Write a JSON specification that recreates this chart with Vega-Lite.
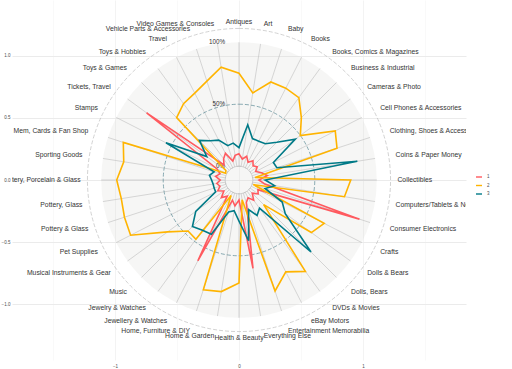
{
  "$schema": "https://vega.github.io/schema/vega-lite/v6.json",
  "width": 454,
  "height": 360,
  "autosize": {"type": "none"},
  "padding": {"left": 12, "top": 0, "right": 46, "bottom": 9},
  "background": "white",
  "config": {
    "view": {"stroke": null},
    "font": "Liberation Sans",
    "axis": {"domain": false, "ticks": false, "labelFontSize": 4.5, "labelColor": "#4D4D4D", "gridColor": "#EBEBEB"}
  },
  "datasets": {
    "radar": [
      {"category": "Antiques", "1": 0.10, "2": 0.75, "3": 0.15},
      {"category": "Art", "1": 0.06, "2": 0.60, "3": 0.34},
      {"category": "Baby", "1": 0.09, "2": 0.72, "3": 0.24},
      {"category": "Books", "1": 0.05, "2": 0.72, "3": 0.24},
      {"category": "Books, Comics & Magazines", "1": 0.08, "2": 0.71, "3": 0.25},
      {"category": "Business & Industrial", "1": 0.05, "2": 0.60, "3": 0.32},
      {"category": "Cameras & Photo", "1": 0.07, "2": 0.50, "3": 0.45},
      {"category": "Cell Phones & Accessories", "1": 0.04, "2": 0.76, "3": 0.20},
      {"category": "Clothing, Shoes & Accessories", "1": 0.08, "2": 0.72, "3": 0.21},
      {"category": "Coins & Paper Money", "1": 0.12, "2": 0.02, "3": 0.855},
      {"category": "Collectibles", "1": 0.05, "2": 0.79, "3": 0.10},
      {"category": "Computers/Tablets & Networking", "1": 0.10, "2": 0.75, "3": 0.18},
      {"category": "Consumer Electronics", "1": 0.91, "2": 0.01, "3": 0.11},
      {"category": "Crafts", "1": 0.06, "2": 0.66, "3": 0.28},
      {"category": "Dolls & Bears", "1": 0.08, "2": 0.61, "3": 0.35},
      {"category": "Dolls, Bears", "1": 0.04, "2": 0.17, "3": 0.71},
      {"category": "DVDs & Movies", "1": 0.09, "2": 0.80, "3": 0.17},
      {"category": "eBay Motors", "1": 0.05, "2": 0.72, "3": 0.21},
      {"category": "Entertainment Memorabilia", "1": 0.08, "2": 0.83, "3": 0.14},
      {"category": "Everything Else", "1": 0.61, "2": 0.05, "3": 0.385},
      {"category": "Health & Beauty", "1": 0.05, "2": 0.72, "3": 0.22},
      {"category": "Home & Garden", "1": 0.10, "2": 0.80, "3": 0.14},
      {"category": "Home, Furniture & DIY", "1": 0.06, "2": 0.82, "3": 0.16},
      {"category": "Jewellery & Watches", "1": 0.62, "2": 0.03, "3": 0.38},
      {"category": "Jewelry & Watches", "1": 0.05, "2": 0.48, "3": 0.39},
      {"category": "Music", "1": 0.09, "2": 0.47, "3": 0.42},
      {"category": "Musical Instruments & Gear", "1": 0.04, "2": 0.60, "3": 0.32},
      {"category": "Pet Supplies", "1": 0.08, "2": 0.87, "3": 0.10},
      {"category": "Pottery & Glass", "1": 0.05, "2": 0.86, "3": 0.10},
      {"category": "Pottery, Glass", "1": 0.07, "2": 0.85, "3": 0.10},
      {"category": "Pottery, Porcelain & Glass", "1": 0.04, "2": 0.875, "3": 0.11},
      {"category": "Sporting Goods", "1": 0.08, "2": 0.83, "3": 0.13},
      {"category": "Sports Mem, Cards & Fan Shop", "1": 0.05, "2": 0.87, "3": 0.10},
      {"category": "Stamps", "1": 0.09, "2": 0.01, "3": 0.55},
      {"category": "Tickets, Travel", "1": 0.81, "2": 0.02, "3": 0.21},
      {"category": "Toys & Games", "1": 0.06, "2": 0.60, "3": 0.34},
      {"category": "Toys & Hobbies", "1": 0.10, "2": 0.65, "3": 0.28},
      {"category": "Travel", "1": 0.13, "2": 0.675, "3": 0.25},
      {"category": "Vehicle Parts & Accessories", "1": 0.05, "2": 0.727, "3": 0.18},
      {"category": "Video Games & Consoles", "1": 0.09, "2": 0.81, "3": 0.19}
    ],
    "levels": [
      {"level": 0, "label": "0%"},
      {"level": 0.5, "label": "50%"},
      {"level": 1, "label": "100%"}
    ]
  },
  "layer": [
    {
      "data": {"name": "radar"},
      "transform": [
        {"window": [{"op": "row_number", "as": "idx"}]},
        {"calculate": "(datum.idx - 1) * 2 * PI / 40", "as": "theta"},
        {"calculate": "(1/9) * sin(datum.theta)", "as": "ax"},
        {"calculate": "(1/9) * cos(datum.theta)", "as": "ay"},
        {"calculate": "(1 + 1/9) * sin(datum.theta)", "as": "bx"},
        {"calculate": "(1 + 1/9) * cos(datum.theta)", "as": "by"}
      ],
      "mark": {"type": "rule", "opacity": 0},
      "encoding": {
        "x": {"field": "ax", "type": "quantitative", "title": null,
          "scale": {"domain": [-1.8306, 1.8306], "nice": false, "zero": false},
          "axis": {"values": [-1.5, -1, -0.5, 0, 0.5, 1, 1.5], "labelExpr": "datum.value % 1 == 0 ? format(datum.value, 'd') : ''", "labelPadding": 3,
            "gridWidth": {"condition": {"test": "datum.value % 1 == 0", "value": 0.6}, "value": 0.3}}},
        "y": {"field": "ay", "type": "quantitative", "title": null,
          "scale": {"domain": [-1.4516, 1.4516], "nice": false, "zero": false},
          "axis": {"values": [-1, -0.5, 0, 0.5, 1], "format": ".1f", "labelPadding": 2}},
        "x2": {"field": "bx"},
        "y2": {"field": "by"}
      }
    },
    {
      "data": {"name": "levels"},
      "transform": [{"filter": "datum.level == 1"}, {"calculate": "datum.level + 1/9", "as": "rr"}],
      "mark": {"type": "arc", "theta": 0, "theta2": 6.2832, "fill": "#D7D6D1", "fillOpacity": 0.22, "stroke": null},
      "encoding": {
        "radius": {"field": "rr", "type": "quantitative", "scale": {"type": "linear", "domain": [0, 1.8306], "range": [0, 227], "zero": true}}
      }
    },
    {
      "data": {"name": "radar"},
      "transform": [
        {"window": [{"op": "row_number", "as": "idx"}]},
        {"calculate": "(datum.idx - 1) * 2 * PI / 40", "as": "theta"},
        {"calculate": "(1/9) * sin(datum.theta)", "as": "ax"},
        {"calculate": "(1/9) * cos(datum.theta)", "as": "ay"},
        {"calculate": "(1 + 1/9) * sin(datum.theta)", "as": "bx"},
        {"calculate": "(1 + 1/9) * cos(datum.theta)", "as": "by"}
      ],
      "mark": {"type": "rule", "stroke": "#BEBEBE", "strokeWidth": 0.6},
      "encoding": {
        "x": {"field": "ax", "type": "quantitative", "title": null},
        "y": {"field": "ay", "type": "quantitative", "title": null},
        "x2": {"field": "bx"},
        "y2": {"field": "by"}
      }
    },
    {
      "data": {"name": "levels"},
      "transform": [{"filter": "datum.level != 0.5"}, {"calculate": "datum.level + 1/9", "as": "rr"}],
      "mark": {"type": "arc", "theta": 0, "theta2": 6.2832, "filled": false, "stroke": "#BEBEBE", "strokeWidth": 0.7, "strokeDash": [4, 2]},
      "encoding": {
        "radius": {"field": "rr", "type": "quantitative", "scale": {"type": "linear", "domain": [0, 1.8306], "range": [0, 227], "zero": true}}
      }
    },
    {
      "data": {"name": "levels"},
      "transform": [{"filter": "datum.level == 0.5"}, {"calculate": "datum.level + 1/9", "as": "rr"}],
      "mark": {"type": "arc", "theta": 0, "theta2": 6.2832, "filled": false, "stroke": "#5A8A95", "strokeWidth": 0.7, "strokeDash": [4, 2]},
      "encoding": {
        "radius": {"field": "rr", "type": "quantitative", "scale": {"type": "linear", "domain": [0, 1.8306], "range": [0, 227], "zero": true}}
      }
    },
    {
      "data": {"name": "levels"},
      "transform": [{"calculate": "-(1 + 1/9) * 0.1", "as": "gx"}, {"calculate": "datum.level + 1/9", "as": "gy"}],
      "mark": {"type": "text", "align": "right", "baseline": "middle", "fontSize": 6.3, "color": "#333333"},
      "encoding": {
        "x": {"field": "gx", "type": "quantitative", "title": null},
        "y": {"field": "gy", "type": "quantitative", "title": null},
        "text": {"field": "label"}
      }
    },
    {
      "data": {"name": "radar"},
      "transform": [
        {"window": [{"op": "row_number", "as": "idx"}]},
        {"fold": ["1", "2", "3"], "as": ["group", "value"]},
        {"calculate": "(datum.idx - 1) * 2 * PI / 40", "as": "theta"},
        {"calculate": "(datum.value + 1/9) * sin(datum.theta)", "as": "px"},
        {"calculate": "(datum.value + 1/9) * cos(datum.theta)", "as": "py"}
      ],
      "mark": {"type": "line", "interpolate": "linear-closed", "strokeWidth": 1.6},
      "encoding": {
        "x": {"field": "px", "type": "quantitative", "title": null},
        "y": {"field": "py", "type": "quantitative", "title": null},
        "order": {"field": "idx", "type": "quantitative"},
        "color": {"field": "group", "type": "nominal",
          "scale": {"domain": ["1", "2", "3"], "range": ["#FF5A5F", "#FFB400", "#007A87"]},
          "legend": {"title": null, "orient": "none", "legendX": 463, "legendY": 173, "symbolType": "stroke", "symbolSize": 36, "symbolStrokeWidth": 1.4, "labelFontSize": 4.5, "labelColor": "#4D4D4D", "rowPadding": 1.5, "labelOffset": 4}}
      }
    },
    {
      "data": {"name": "radar"},
      "transform": [
        {"window": [{"op": "row_number", "as": "idx"}]},
        {"calculate": "(datum.idx - 1) * 2 * PI / 40", "as": "theta"},
        {"calculate": "1.15 * (1 + 1/9) * sin(datum.theta)", "as": "lx"},
        {"calculate": "1.15 * (1 + 1/9) * cos(datum.theta)", "as": "ly"},
        {"filter": "datum.lx > 0.0222"}
      ],
      "mark": {"type": "text", "align": "left", "baseline": "middle", "fontSize": 6.8, "color": "#333333", "clip": true},
      "encoding": {
        "x": {"field": "lx", "type": "quantitative", "title": null},
        "y": {"field": "ly", "type": "quantitative", "title": null},
        "text": {"field": "category"}
      }
    },
    {
      "data": {"name": "radar"},
      "transform": [
        {"window": [{"op": "row_number", "as": "idx"}]},
        {"calculate": "(datum.idx - 1) * 2 * PI / 40", "as": "theta"},
        {"calculate": "1.15 * (1 + 1/9) * sin(datum.theta)", "as": "lx"},
        {"calculate": "1.15 * (1 + 1/9) * cos(datum.theta)", "as": "ly"},
        {"filter": "datum.lx < -0.0222"}
      ],
      "mark": {"type": "text", "align": "right", "baseline": "middle", "fontSize": 6.8, "color": "#333333", "clip": true},
      "encoding": {
        "x": {"field": "lx", "type": "quantitative", "title": null},
        "y": {"field": "ly", "type": "quantitative", "title": null},
        "text": {"field": "category"}
      }
    },
    {
      "data": {"name": "radar"},
      "transform": [
        {"window": [{"op": "row_number", "as": "idx"}]},
        {"calculate": "(datum.idx - 1) * 2 * PI / 40", "as": "theta"},
        {"calculate": "1.15 * (1 + 1/9) * sin(datum.theta)", "as": "lx"},
        {"calculate": "1.15 * (1 + 1/9) * cos(datum.theta)", "as": "ly"},
        {"filter": "abs(datum.lx) <= 0.0222"}
      ],
      "mark": {"type": "text", "align": "center", "baseline": "middle", "fontSize": 6.8, "color": "#333333", "clip": true},
      "encoding": {
        "x": {"field": "lx", "type": "quantitative", "title": null},
        "y": {"field": "ly", "type": "quantitative", "title": null},
        "text": {"field": "category"}
      }
    }
  ]
}
